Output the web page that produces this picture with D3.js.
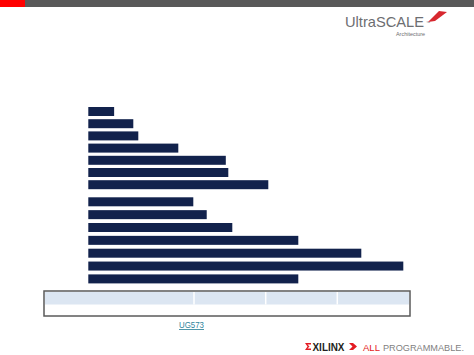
<!DOCTYPE html>
<html><head><meta charset="utf-8">
<script src="https://cdn.jsdelivr.net/npm/d3@7/dist/d3.min.js"></script>
<style>html,body{margin:0;padding:0;background:#fff;overflow:hidden}</style>
</head><body>
<script>
// Data (Block RAM counts per device)
const kintexDevices = ["KU025","KU035","KU040","KU060","KU085","KU095","KU115"];
const kintexValues  = [310, 540, 600, 1080, 1650, 1680, 2160];
const virtexDevices = ["VU065","VU080","VU095","VU125","VU160","VU190","VU440"];
const virtexValues  = [1260, 1421, 1728, 2520, 3276, 3780, 2520];
const tableColumns  = ["", "", "", ""];
const linkLabel = "UG573";

const W = 474, H = 355;
const svg = d3.select("body").append("svg").attr("width", W).attr("height", H)
  .style("font-family", "'Liberation Sans', Arial, sans-serif");

// Top banner
svg.append("rect").attr("x",0).attr("y",0).attr("width",W).attr("height",7).attr("fill","#595959");
svg.append("rect").attr("x",0).attr("y",0).attr("width",25).attr("height",7).attr("fill","#ff0000");

// UltraSCALE logo
svg.append("text").attr("x",345).attr("y",27).attr("font-size",14.5).attr("fill","#6d6e71")
  .attr("textLength",79).attr("lengthAdjust","spacingAndGlyphs").text("UltraSCALE");
svg.append("text").attr("x",426).attr("y",24).attr("font-size",4).attr("fill","#6d6e71").text("\u2122");
svg.append("text").attr("x",396).attr("y",36).attr("font-size",5).attr("fill","#6d6e71")
  .attr("textLength",29).attr("lengthAdjust","spacingAndGlyphs").text("Architecture");
svg.append("path").attr("d","M428,22 L435,21 L447,12 L439,11 Z").attr("fill","#d7282f");

// Scales
const x = d3.scaleLinear().domain([0, 3780]).range([88.3, 403.3]);
const y1 = d3.scaleBand().domain(kintexDevices).range([107, 107 + 7*12.2]);
const y2 = d3.scaleBand().domain(virtexDevices).range([197.3, 197.3 + 7*12.85]);
const barH = 9, barColor = "#12224c";

svg.append("g").selectAll("rect").data(kintexDevices).join("rect")
  .attr("x", x(0)).attr("y", d => y1(d))
  .attr("width", (d,i) => x(kintexValues[i]) - x(0)).attr("height", barH)
  .attr("fill", barColor);
svg.append("g").selectAll("rect").data(virtexDevices).join("rect")
  .attr("x", x(0)).attr("y", d => y2(d))
  .attr("width", (d,i) => x(virtexValues[i]) - x(0)).attr("height", barH)
  .attr("fill", barColor);

// Table
const tX = 44, tY = 291, tW = 366, tH = 25;
svg.append("rect").attr("x",tX).attr("y",tY).attr("width",tW).attr("height",tH)
  .attr("fill","#fff").attr("stroke","#5a5a5a").attr("stroke-width",1.5);
svg.append("rect").attr("x",tX+1).attr("y",tY+1).attr("width",tW-2).attr("height",12.5).attr("fill","#dce6f2");
const colEdges = [194, 265.7, 337.3];
svg.append("g").selectAll("line").data(colEdges).join("line")
  .attr("x1",d=>d).attr("x2",d=>d).attr("y1",tY+1).attr("y2",tY+13.5)
  .attr("stroke","#fff").attr("stroke-width",1.5);

// Link
svg.append("text").attr("x",179).attr("y",328).attr("font-size",8.5).attr("fill","#31849b")
  .attr("text-decoration","underline").attr("textLength",25).attr("lengthAdjust","spacingAndGlyphs")
  .text(linkLabel);

// Xilinx footer logo
svg.append("path").attr("d","M305,343 L311,343 L311,344.5 L307.5,344.5 L309.5,346.5 L307.5,348.5 L311,348.5 L311,350 L305,350 L307.5,346.5 Z")
  .attr("fill","#e31b23");
svg.append("text").attr("x",312.5).attr("y",350.5).attr("font-size",10).attr("font-weight","bold").attr("fill","#231f20")
  .attr("textLength",32).attr("lengthAdjust","spacingAndGlyphs").text("XILINX");
svg.append("path").attr("d","M349,343 L353,343 L357,346.5 L353,350 L349,350 L352.5,346.5 Z").attr("fill","#e31b23");
svg.append("text").attr("x",363).attr("y",350.5).attr("font-size",9.5).attr("fill","#e31b23")
  .attr("textLength",17).attr("lengthAdjust","spacingAndGlyphs").text("ALL");
svg.append("text").attr("x",383).attr("y",350.5).attr("font-size",9.5).attr("fill","#7f7f7f")
  .attr("textLength",81).attr("lengthAdjust","spacingAndGlyphs").text("PROGRAMMABLE.");
</script>
</body></html>
